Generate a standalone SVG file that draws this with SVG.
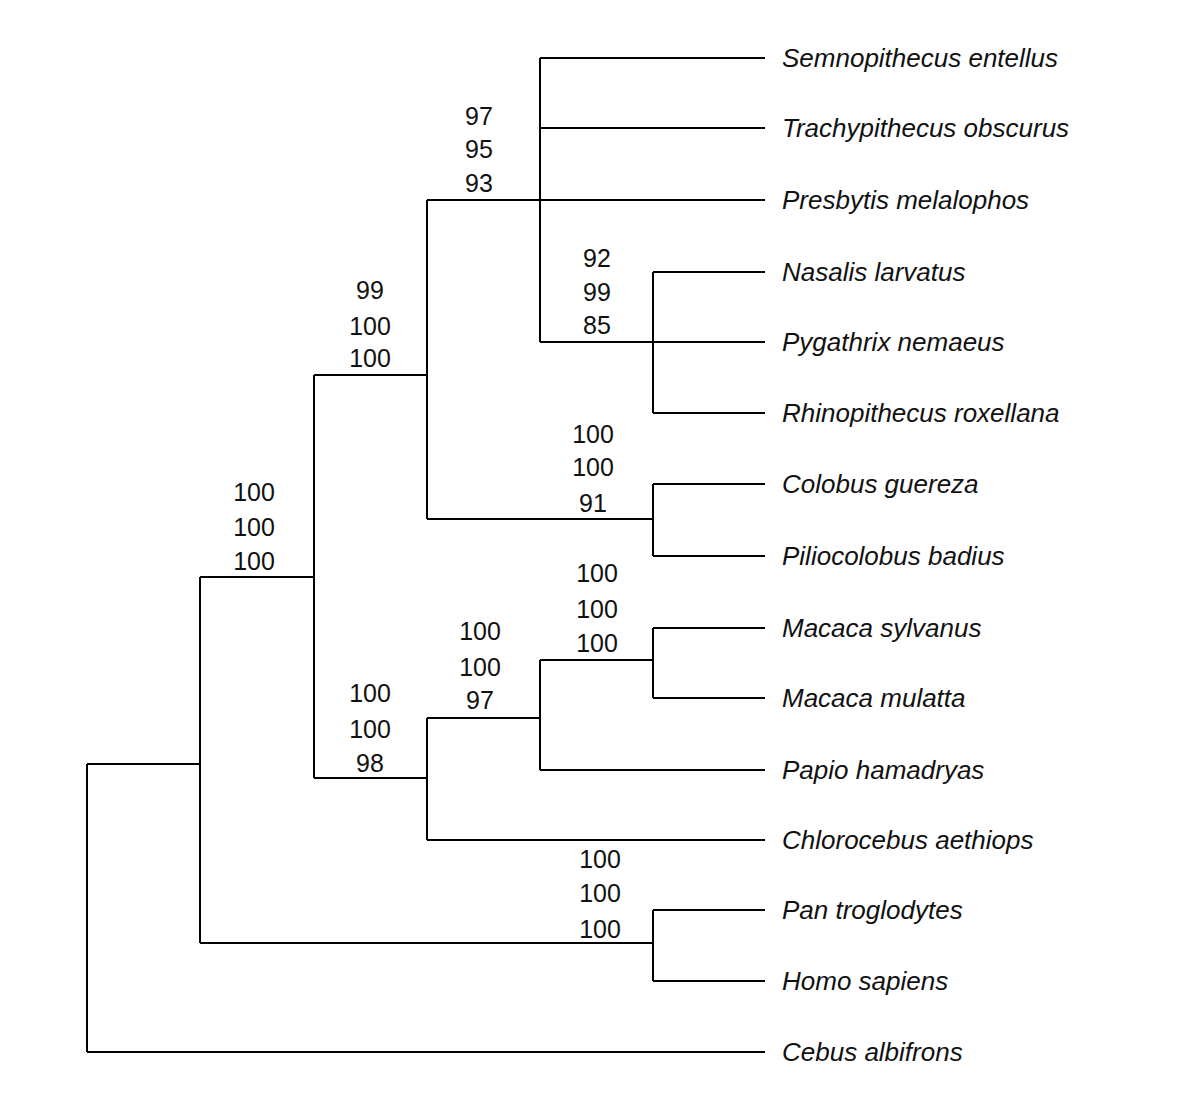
<svg xmlns="http://www.w3.org/2000/svg" width="1200" height="1104" viewBox="0 0 1200 1104">
<style>
.e{stroke:#000;stroke-width:2;fill:none}
.t{font-family:"Liberation Sans",Arial,sans-serif;font-size:26px;font-style:italic;fill:#111}
.s{font-family:"Liberation Sans",Arial,sans-serif;font-size:25px;fill:#111;text-anchor:middle}
</style>
<rect width="1200" height="1104" fill="#fff"/>
<g id="connectors" class="e">
<path d="M540 58V342M540 58H765M540 128H765M427 200H765M540 342H765M653 272V413M653 272H765M653 413H765"/>
<path d="M427 200V519M427 519H653M653 484V556M653 484H765M653 556H765"/>
<path d="M314 375V778M314 375H427M314 778H427M427 718V840M427 718H540M427 840H765M540 660V770M540 660H653M540 770H765M653 628V698M653 628H765M653 698H765"/>
<path d="M200 577V943M200 577H314M200 943H653M653 910V981M653 910H765M653 981H765"/>
<path d="M87 764V1052M87 764H200M87 1052H765"/>
</g>
<g id="tips" class="t">
<text x="782" y="67">Semnopithecus entellus</text>
<text x="782" y="137">Trachypithecus obscurus</text>
<text x="782" y="209">Presbytis melalophos</text>
<text x="782" y="281">Nasalis larvatus</text>
<text x="782" y="351">Pygathrix nemaeus</text>
<text x="782" y="422">Rhinopithecus roxellana</text>
<text x="782" y="493">Colobus guereza</text>
<text x="782" y="565">Piliocolobus badius</text>
<text x="782" y="637">Macaca sylvanus</text>
<text x="782" y="707">Macaca mulatta</text>
<text x="782" y="779">Papio hamadryas</text>
<text x="782" y="849">Chlorocebus aethiops</text>
<text x="782" y="919">Pan troglodytes</text>
<text x="782" y="990">Homo sapiens</text>
<text x="782" y="1061">Cebus albifrons</text>
</g>
<g id="support" class="s">
<text x="479" y="125">97</text><text x="479" y="158">95</text><text x="479" y="192">93</text>
<text x="597" y="267">92</text><text x="597" y="301">99</text><text x="597" y="334">85</text>
<text x="370" y="299">99</text><text x="370" y="335">100</text><text x="370" y="367">100</text>
<text x="593" y="443">100</text><text x="593" y="476">100</text><text x="593" y="512">91</text>
<text x="254" y="501">100</text><text x="254" y="536">100</text><text x="254" y="570">100</text>
<text x="597" y="582">100</text><text x="597" y="618">100</text><text x="597" y="652">100</text>
<text x="480" y="640">100</text><text x="480" y="676">100</text><text x="480" y="709">97</text>
<text x="370" y="702">100</text><text x="370" y="738">100</text><text x="370" y="772">98</text>
<text x="600" y="868">100</text><text x="600" y="902">100</text><text x="600" y="938">100</text>
</g>
</svg>
